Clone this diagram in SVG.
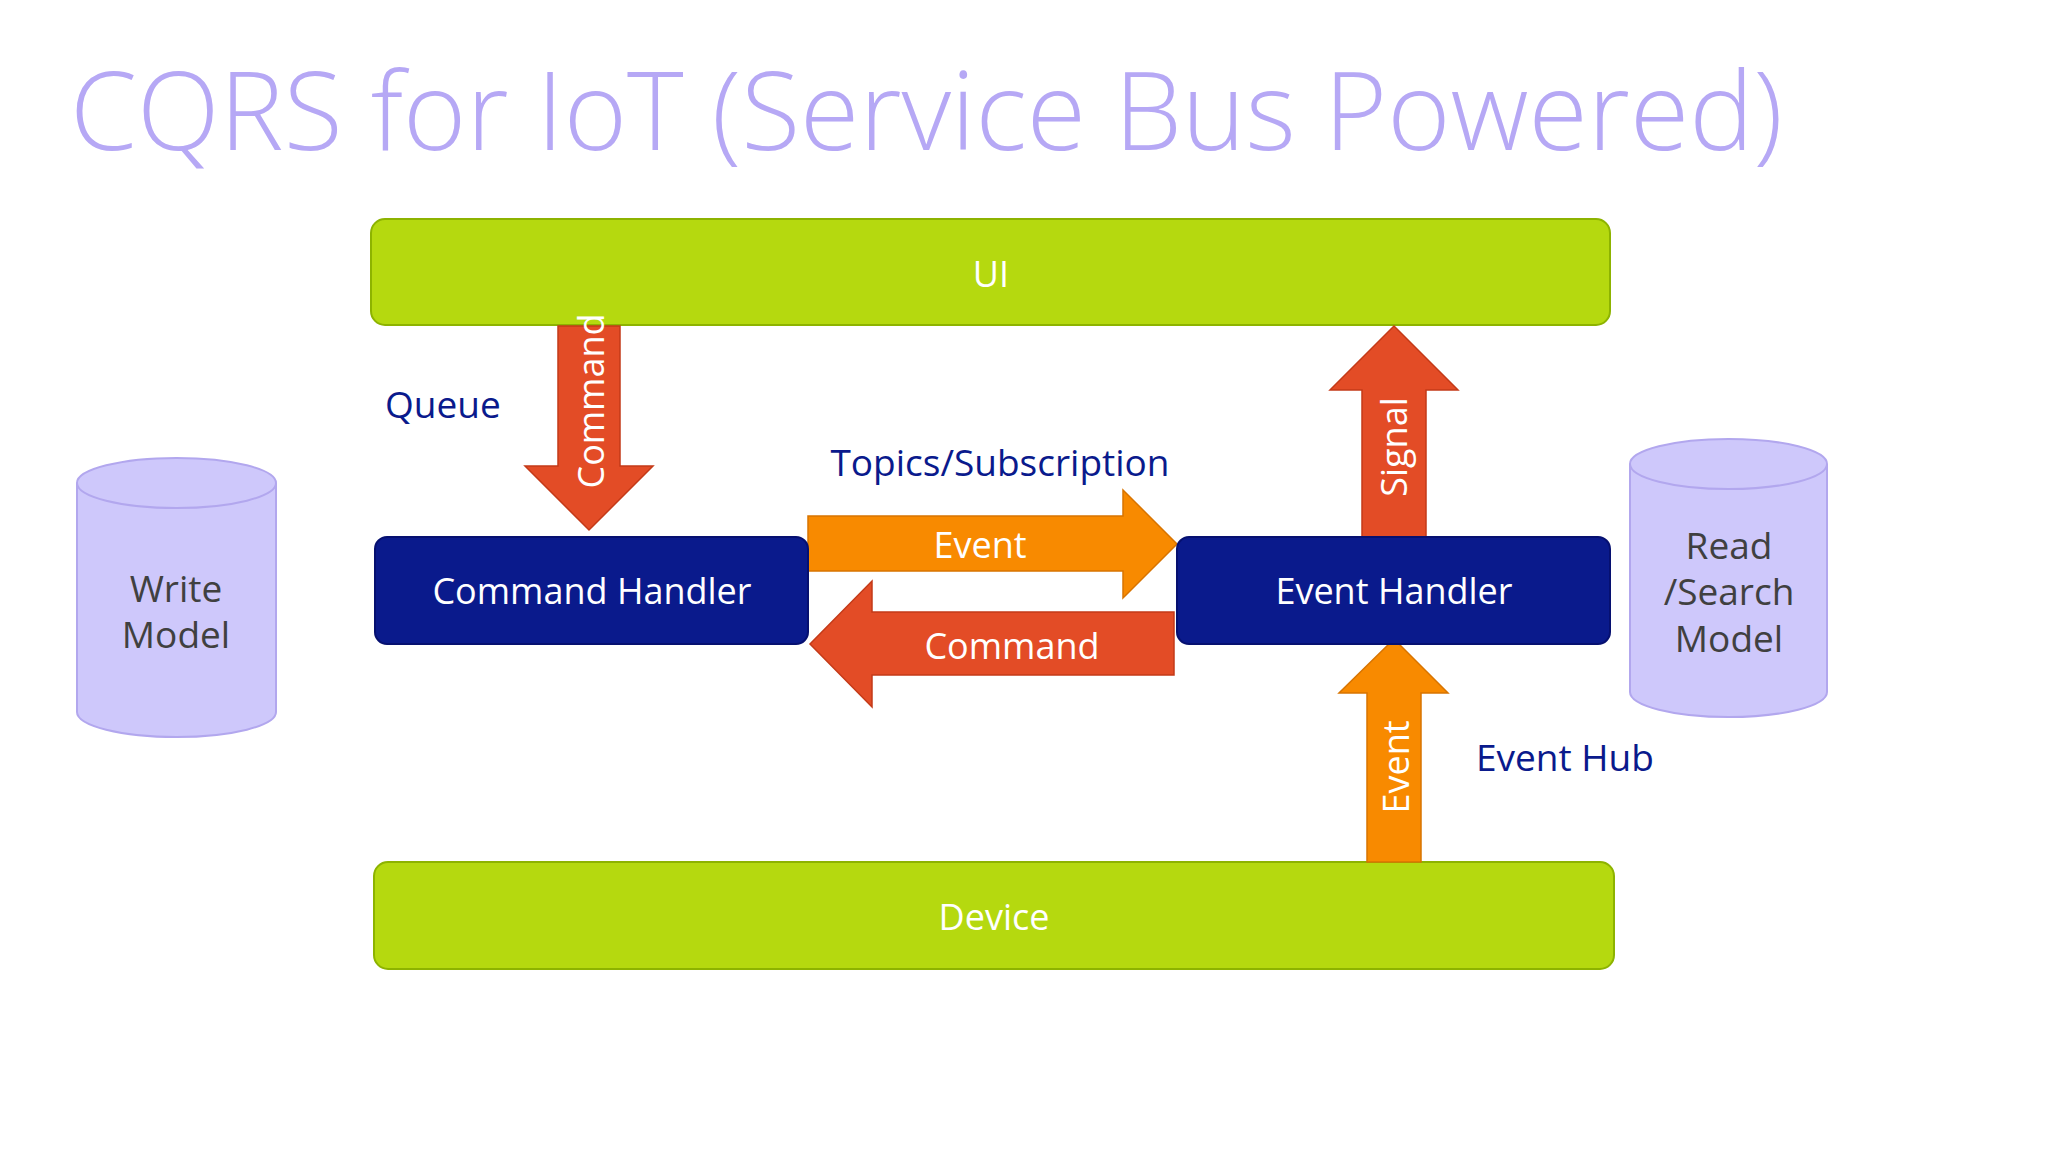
<svg xmlns="http://www.w3.org/2000/svg" width="2048" height="1152" viewBox="0 0 2048 1152">
<style>
text{font-family:"Open Sans","Noto Sans",sans-serif}
.bar{fill:#b5d90f;stroke:#8db300;stroke-width:2}
.hdl{fill:#0a1a8c;stroke:#061070;stroke-width:2}
.cyl{fill:#cec8fb;stroke:#b2a7ee;stroke-width:2}
.red{fill:#e34c26;stroke:#c43a18;stroke-width:1.5}
.org{fill:#f88a00;stroke:#d87400;stroke-width:1.5}
.w{fill:#fff;font-size:36px;text-anchor:middle}
.lab{fill:#0a1a8c;font-size:37px}
.cy{fill:#404040;font-size:37px;text-anchor:middle}
</style>
<rect width="2048" height="1152" fill="#fff"/>
<text x="70" y="150" font-size="108" font-weight="300" fill="#b6a8f5">CQRS for IoT (Service Bus Powered)</text>
<g id="ui"><rect class="bar" x="371" y="219" width="1239" height="106" rx="14"/><text class="w" x="991" y="287">UI</text></g>
<g id="device"><rect class="bar" x="374" y="862" width="1240" height="107" rx="14"/><text class="w" x="994" y="930">Device</text></g>
<g id="write"><path class="cyl" d="M77 483 V712 A99.5 25 0 0 0 276 712 V483"/><ellipse class="cyl" cx="176.5" cy="483" rx="99.5" ry="25"/><text class="cy" x="176" y="602">Write</text><text class="cy" x="176" y="648">Model</text></g>
<g id="read"><path class="cyl" d="M1630 464 V692 A98.5 25 0 0 0 1827 692 V464"/><ellipse class="cyl" cx="1728.5" cy="464" rx="98.5" ry="25"/><text class="cy" x="1729" y="559">Read</text><text class="cy" x="1729" y="605">/Search</text><text class="cy" x="1729" y="652">Model</text></g>
<g id="connectors">
<polygon class="red" points="558,326 620,326 620,466 653,466 589,530 525,466 558,466"/>
<polygon class="red" points="1362,542 1426,542 1426,390 1458,390 1394,326 1330,390 1362,390"/>
<polygon class="org" points="808,516 1123,516 1123,490 1177,544 1123,598 1123,571 808,571"/>
<polygon class="red" points="1174,612 872,612 872,581 810,644 872,707 872,675 1174,675"/>
<polygon class="org" points="1367,862 1421,862 1421,693 1448,693 1394,639 1339,693 1367,693"/>
<text class="w" x="980" y="558" font-size="35">Event</text>
<text class="w" x="1012" y="659" font-size="32">Command</text>
<text class="w" font-size="30" transform="translate(604,401) rotate(-90)">Command</text>
<text class="w" font-size="30" transform="translate(1407,447) rotate(-90)">Signal</text>
<text class="w" font-size="35" transform="translate(1409,767) rotate(-90)">Event</text>
<text class="lab" x="385" y="418">Queue</text>
<text class="lab" x="1000" y="476" text-anchor="middle">Topics/Subscription</text>
<text class="lab" x="1476" y="771">Event Hub</text>
</g>
<g id="cmdhandler"><rect class="hdl" x="375" y="537" width="433" height="107" rx="12"/><text class="w" x="592" y="604">Command Handler</text></g>
<g id="evthandler"><rect class="hdl" x="1177" y="537" width="433" height="107" rx="12"/><text class="w" x="1394" y="604">Event Handler</text></g>
</svg>
